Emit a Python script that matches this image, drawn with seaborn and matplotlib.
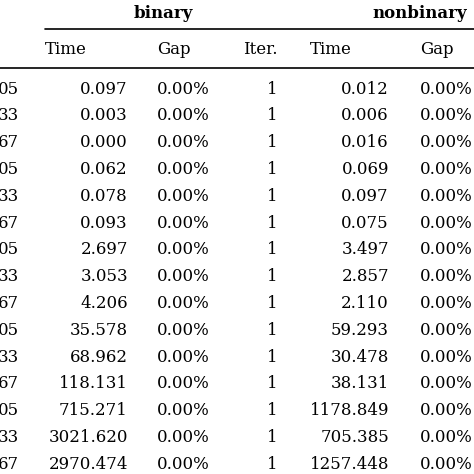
import matplotlib
matplotlib.use("Agg")
import matplotlib.pyplot as plt
import seaborn as sns

sns.set_theme(style="white")
plt.rcParams['font.family'] = ['DejaVu Serif']
plt.rcParams['text.color'] = 'black'

# table contents (left column is cut off in the reference)
left_col = ["05", "33", "67"] * 5
bin_time = ["0.097", "0.003", "0.000", "0.062", "0.078", "0.093", "2.697", "3.053",
            "4.206", "35.578", "68.962", "118.131", "715.271", "3021.620", "2970.474"]
bin_gap = ["0.00%"] * 15
nb_iter = ["1"] * 15
nb_time = ["0.012", "0.006", "0.016", "0.069", "0.097", "0.075", "3.497", "2.857",
           "2.110", "59.293", "30.478", "38.131", "1178.849", "705.385", "1257.448"]
nb_gap = ["0.00%"] * 15

fig = plt.figure(figsize=(4.74, 4.74), dpi=100)
ax = fig.add_axes([0, 0, 1, 1])
ax.set_xlim(0, 474)
ax.set_ylim(474, 0)
ax.axis("off")

fs = 12
ax.text(163, 13, "binary", fontsize=fs, fontweight="bold", ha="center", va="center")
ax.text(372, 13, "nonbinary", fontsize=fs, fontweight="bold", ha="left", va="center")
ax.plot([45, 474], [29, 29], color="black", lw=1.2)
ax.text(45, 49, "Time", fontsize=fs, ha="left", va="center")
ax.text(157, 49, "Gap", fontsize=fs, ha="left", va="center")
ax.text(278, 49, "Iter.", fontsize=fs, ha="right", va="center")
ax.text(310, 49, "Time", fontsize=fs, ha="left", va="center")
ax.text(420, 49, "Gap", fontsize=fs, ha="left", va="center")
ax.plot([0, 474], [68, 68], color="black", lw=1.2)

y0, dy = 89, 26.8
for i in range(15):
    y = y0 + i * dy
    ax.text(19, y, left_col[i], fontsize=fs, ha="right", va="center")
    ax.text(128, y, bin_time[i], fontsize=fs, ha="right", va="center")
    ax.text(157, y, bin_gap[i], fontsize=fs, ha="left", va="center")
    ax.text(278, y, nb_iter[i], fontsize=fs, ha="right", va="center")
    ax.text(389, y, nb_time[i], fontsize=fs, ha="right", va="center")
    ax.text(420, y, nb_gap[i], fontsize=fs, ha="left", va="center")

fig.savefig("out.png", dpi=100, facecolor="white")
